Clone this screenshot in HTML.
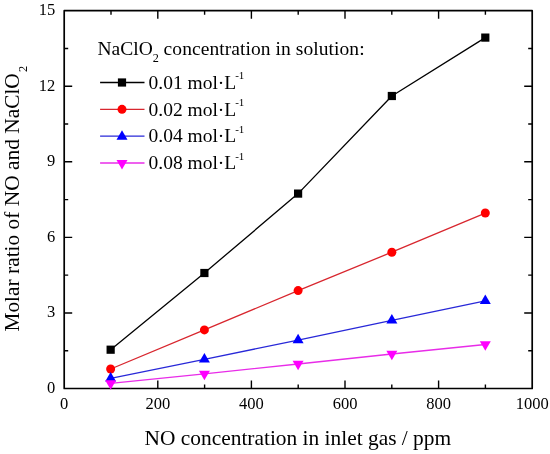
<!DOCTYPE html><html><head><meta charset="utf-8"><style>html,body{margin:0;padding:0;background:#fff;width:550px;height:454px;overflow:hidden}svg{display:block}text{font-family:"Liberation Serif",serif;fill:#000}</style></head><body>
<svg width="550" height="454" viewBox="0 0 550 454">
<path d="M111.00 388.50V384.50M111.00 10.70V14.70M157.80 388.50V380.50M157.80 10.70V18.70M204.60 388.50V384.50M204.60 10.70V14.70M251.40 388.50V380.50M251.40 10.70V18.70M298.20 388.50V384.50M298.20 10.70V14.70M345.00 388.50V380.50M345.00 10.70V18.70M391.80 388.50V384.50M391.80 10.70V14.70M438.60 388.50V380.50M438.60 10.70V18.70M485.40 388.50V384.50M485.40 10.70V14.70M64.20 350.72H68.20M532.20 350.72H528.20M64.20 312.94H72.20M532.20 312.94H524.20M64.20 275.16H68.20M532.20 275.16H528.20M64.20 237.38H72.20M532.20 237.38H524.20M64.20 199.60H68.20M532.20 199.60H528.20M64.20 161.82H72.20M532.20 161.82H524.20M64.20 124.04H68.20M532.20 124.04H528.20M64.20 86.26H72.20M532.20 86.26H524.20M64.20 48.48H68.20M532.20 48.48H528.20" stroke="#000" stroke-width="1.4" fill="none"/>
<rect x="64.2" y="10.7" width="468.00" height="377.80" fill="none" stroke="#000" stroke-width="1.7" stroke-linejoin="round"/>
<text x="64.20" y="408.7" font-size="16.5" text-anchor="middle">0</text>
<text x="157.80" y="408.7" font-size="16.5" text-anchor="middle">200</text>
<text x="251.40" y="408.7" font-size="16.5" text-anchor="middle">400</text>
<text x="345.00" y="408.7" font-size="16.5" text-anchor="middle">600</text>
<text x="438.60" y="408.7" font-size="16.5" text-anchor="middle">800</text>
<text x="532.20" y="408.7" font-size="16.5" text-anchor="middle">1000</text>
<text x="55.2" y="393.00" font-size="16.5" text-anchor="end">0</text>
<text x="55.2" y="317.44" font-size="16.5" text-anchor="end">3</text>
<text x="55.2" y="241.88" font-size="16.5" text-anchor="end">6</text>
<text x="55.2" y="166.32" font-size="16.5" text-anchor="end">9</text>
<text x="55.2" y="90.76" font-size="16.5" text-anchor="end">12</text>
<text x="55.2" y="15.20" font-size="16.5" text-anchor="end">15</text>
<text x="144.6" y="444.9" font-size="21.4">NO concentration in inlet gas / ppm</text>
<text transform="translate(19.3,331.6) rotate(-90)" font-size="21.4">Molar ratio of NO and NaClO<tspan font-size="12.4" dx="1.2" dy="7.4">2</tspan></text>
<polyline points="110.65,349.70 204.40,273.00 298.10,193.60 391.85,96.00 485.30,37.60" fill="none" stroke="#000" stroke-width="1.3" stroke-linejoin="round"/>
<polyline points="110.65,369.00 204.40,329.90 298.10,290.60 391.85,252.20 485.30,213.05" fill="none" stroke="#d8262e" stroke-width="1.3" stroke-linejoin="round"/>
<polyline points="110.65,378.40 204.40,359.40 298.10,340.10 391.85,320.40 485.30,300.90" fill="none" stroke="#2828d8" stroke-width="1.3" stroke-linejoin="round"/>
<polyline points="110.65,383.30 204.40,373.90 298.10,364.00 391.85,354.00 485.30,344.50" fill="none" stroke="#e82ce8" stroke-width="1.3" stroke-linejoin="round"/>
<rect x="106.55" y="345.60" width="8.2" height="8.2" fill="#000"/>
<rect x="200.30" y="268.90" width="8.2" height="8.2" fill="#000"/>
<rect x="294.00" y="189.50" width="8.2" height="8.2" fill="#000"/>
<rect x="387.75" y="91.90" width="8.2" height="8.2" fill="#000"/>
<rect x="481.20" y="33.50" width="8.2" height="8.2" fill="#000"/>
<circle cx="110.65" cy="369.00" r="4.5" fill="#ff0000"/>
<circle cx="204.40" cy="329.90" r="4.5" fill="#ff0000"/>
<circle cx="298.10" cy="290.60" r="4.5" fill="#ff0000"/>
<circle cx="391.85" cy="252.20" r="4.5" fill="#ff0000"/>
<circle cx="485.30" cy="213.05" r="4.5" fill="#ff0000"/>
<polygon points="110.65,372.07 116.15,381.57 105.15,381.57" fill="#0000ff"/>
<polygon points="204.40,353.07 209.90,362.57 198.90,362.57" fill="#0000ff"/>
<polygon points="298.10,333.77 303.60,343.27 292.60,343.27" fill="#0000ff"/>
<polygon points="391.85,314.07 397.35,323.57 386.35,323.57" fill="#0000ff"/>
<polygon points="485.30,294.57 490.80,304.07 479.80,304.07" fill="#0000ff"/>
<polygon points="110.65,389.63 116.15,380.13 105.15,380.13" fill="#ff00ff"/>
<polygon points="204.40,380.23 209.90,370.73 198.90,370.73" fill="#ff00ff"/>
<polygon points="298.10,370.33 303.60,360.83 292.60,360.83" fill="#ff00ff"/>
<polygon points="391.85,360.33 397.35,350.83 386.35,350.83" fill="#ff00ff"/>
<polygon points="485.30,350.83 490.80,341.33 479.80,341.33" fill="#ff00ff"/>
<text x="97.5" y="54.9" font-size="19.5">NaClO</text><text x="152.7" y="61.5" font-size="12.2">2</text><text x="163.6" y="54.9" font-size="19.5" textLength="201">concentration in solution:</text>
<line x1="100.1" y1="82.50" x2="144.5" y2="82.50" stroke="#000" stroke-width="1.3"/>
<rect x="117.90" y="78.40" width="8.2" height="8.2" fill="#000"/>
<text x="148.5" y="88.70" font-size="19.5">0.01 mol·L</text><text x="235.2" y="79.40" font-size="11">-1</text>
<line x1="100.1" y1="109.33" x2="144.5" y2="109.33" stroke="#d8262e" stroke-width="1.3"/>
<circle cx="122.00" cy="109.33" r="4.5" fill="#ff0000"/>
<text x="148.5" y="115.53" font-size="19.5">0.02 mol·L</text><text x="235.2" y="106.23" font-size="11">-1</text>
<line x1="100.1" y1="136.16" x2="144.5" y2="136.16" stroke="#2828d8" stroke-width="1.3"/>
<polygon points="122.00,130.26 127.50,139.76 116.50,139.76" fill="#0000ff"/>
<text x="148.5" y="142.36" font-size="19.5">0.04 mol·L</text><text x="235.2" y="133.06" font-size="11">-1</text>
<line x1="100.1" y1="162.99" x2="144.5" y2="162.99" stroke="#e82ce8" stroke-width="1.3"/>
<polygon points="122.00,169.49 127.50,159.99 116.50,159.99" fill="#ff00ff"/>
<text x="148.5" y="169.19" font-size="19.5">0.08 mol·L</text><text x="235.2" y="159.89" font-size="11">-1</text>
</svg></body></html>
